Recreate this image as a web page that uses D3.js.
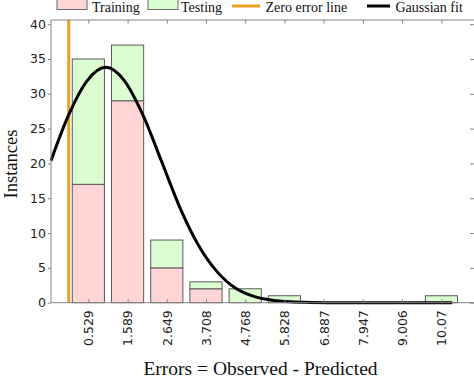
<!DOCTYPE html>
<html>
<head>
<meta charset="utf-8">
<script src="https://cdn.jsdelivr.net/npm/d3@7"></script>
<style>
  html, body { margin: 0; padding: 0; background: #fff; }
  svg { display: block; }
</style>
</head>
<body>
<svg id="chart" width="474" height="377"></svg>
<script>
// ---- data ----
const binCenters = [0.529, 1.589, 2.649, 3.708, 4.768, 5.828, 6.887, 7.947, 9.006, 10.07];
const tickLabels = ["0.529", "1.589", "2.649", "3.708", "4.768", "5.828", "6.887", "7.947", "9.006", "10.07"];
const training = [17, 29, 5, 2, 0, 0, 0, 0, 0, 0];
const testing  = [18, 8, 4, 1, 2, 1, 0, 0, 0, 1];
const zeroError = [0];
const fitX = [-0.48, 0, 0.5, 1.0, 1.5, 2.0, 2.5, 3.0, 3.5, 4.0, 4.5, 5.0, 5.5, 6.0, 6.5, 7.0, 8.0, 9.0, 10.0, 10.36];
const fitY = [20.4, 27.0, 31.9, 33.8, 31.9, 27.0, 20.4, 13.7, 8.3, 4.5, 2.1, 0.9, 0.35, 0.12, 0.04, 0.01, 0, 0, 0, 0];
const yTicks = [0, 5, 10, 15, 20, 25, 30, 35, 40];
const legendLabels = ["Training", "Testing", "Zero error line", "Gaussian fit"];

// ---- layout ----
const L = 51, R = 474, T = 20, B = 302.7;
const pink = "#ffd5d5", green = "#dcfcd2", orange = "#eba023", edge = "#5a5a5a", axisCol = "#858585";

const svg = d3.select("#chart");
const x = d3.scaleLinear().domain([-0.48, 10.95]).range([L, R]);
const y = d3.scaleLinear().domain([0, 40.6]).range([B, T]);
const binStep = binCenters[1] - binCenters[0];
const barW = x(binStep * 0.82) - x(0);

// stacked data
const stacked = binCenters.map((c, i) => ({c, tr: training[i], te: testing[i]}));

// bars
const bars = svg.append("g");
bars.selectAll("rect.tr").data(stacked).enter().append("rect")
  .attr("x", d => x(d.c) - barW / 2).attr("width", barW)
  .attr("y", d => y(d.tr)).attr("height", d => y(0) - y(d.tr))
  .attr("fill", pink).attr("stroke", edge).attr("stroke-width", 1)
  .style("display", d => d.tr > 0 ? null : "none");
bars.selectAll("rect.te").data(stacked).enter().append("rect")
  .attr("x", d => x(d.c) - barW / 2).attr("width", barW)
  .attr("y", d => y(d.tr + d.te)).attr("height", d => y(d.tr) - y(d.tr + d.te))
  .attr("fill", green).attr("stroke", edge).attr("stroke-width", 1)
  .style("display", d => d.te > 0 ? null : "none");

// zero error line
svg.selectAll("line.zero").data(zeroError).enter().append("line")
  .attr("x1", d => x(d)).attr("x2", d => x(d)).attr("y1", T).attr("y2", B)
  .attr("stroke", orange).attr("stroke-width", 3);

// gaussian fit
const fitPts = fitX.map((v, i) => [v, fitY[i]]);
svg.append("path").datum(fitPts)
  .attr("d", d3.line().x(d => x(d[0])).y(d => y(d[1])).curve(d3.curveMonotoneX))
  .attr("fill", "none").attr("stroke", "#000").attr("stroke-width", 3);

// axes
const fontSans = "'DejaVu Sans', sans-serif";
const gx = svg.append("g").attr("transform", `translate(0,${B})`)
  .call(d3.axisBottom(x).tickValues(binCenters).tickFormat((d, i) => tickLabels[i]).tickSize(-3.5).tickPadding(0));
gx.select(".domain").remove();
gx.selectAll("line").attr("stroke", axisCol);
gx.selectAll("text")
  .attr("transform", "rotate(-90)")
  .attr("text-anchor", "end")
  .attr("x", -7.5).attr("y", 0).attr("dy", "0.35em")
  .attr("font-family", fontSans).attr("font-size", 12.5).attr("fill", "#222");

const gxTop = svg.append("g").attr("transform", `translate(0,${T})`)
  .call(d3.axisTop(x).tickValues(binCenters).tickFormat("").tickSize(-3.5));
gxTop.select(".domain").remove();
gxTop.selectAll("line").attr("stroke", axisCol);

const gy = svg.append("g").attr("transform", `translate(${L},0)`)
  .call(d3.axisLeft(y).tickValues(yTicks).tickSize(3).tickPadding(2));
gy.select(".domain").remove();
gy.selectAll("line").attr("stroke", axisCol);
gy.selectAll("text").attr("font-family", fontSans).attr("font-size", 12.5).attr("fill", "#222");

const gyR = svg.append("g").attr("transform", `translate(${R},0)`)
  .call(d3.axisRight(y).tickValues(yTicks).tickFormat("").tickSize(-4));
gyR.select(".domain").remove();
gyR.selectAll("line").attr("stroke", axisCol);

// box lines
const box = svg.append("g").attr("stroke", axisCol).attr("stroke-width", 1);
box.append("line").attr("x1", L).attr("x2", L).attr("y1", T).attr("y2", B);
box.append("line").attr("x1", L).attr("x2", R + 2).attr("y1", B).attr("y2", B);
box.append("line").attr("x1", L).attr("x2", R + 2).attr("y1", T).attr("y2", T);

// axis titles
const fontSerif = "'Liberation Serif', 'Times New Roman', serif";
svg.append("text").attr("transform", "translate(16.5,164) rotate(-90)")
  .attr("text-anchor", "middle").attr("font-family", fontSerif).attr("font-size", 18.5)
  .attr("fill", "#111").text("Instances");
svg.append("text").attr("x", 260.5).attr("y", 374.5)
  .attr("text-anchor", "middle").attr("font-family", fontSerif).attr("font-size", 19.5)
  .attr("fill", "#111").text("Errors = Observed - Predicted");

// legend
const legendX = [57, 148, 232, 367];
const legendKind = ["rect", "rect", "line", "line"];
const legendColor = [pink, green, orange, "#000"];
const lg = svg.append("g");
legendLabels.forEach((lab, i) => {
  const x0 = legendX[i];
  if (legendKind[i] === "rect") {
    lg.append("rect").attr("x", x0).attr("y", -2).attr("width", 30).attr("height", 11.5)
      .attr("fill", legendColor[i]).attr("stroke", "#6a6a6a").attr("stroke-width", 1);
  } else {
    lg.append("line").attr("x1", x0).attr("x2", x0 + (i === 2 ? 28 : 23)).attr("y1", 6).attr("y2", 6)
      .attr("stroke", legendColor[i]).attr("stroke-width", 3);
  }
  const tx = [92, 181, 265.5, 395.5][i];
  lg.append("text").attr("x", tx).attr("y", 11.5)
    .attr("font-family", fontSerif).attr("font-size", 14).attr("fill", "#111").text(lab);
});
</script>
</body>
</html>
